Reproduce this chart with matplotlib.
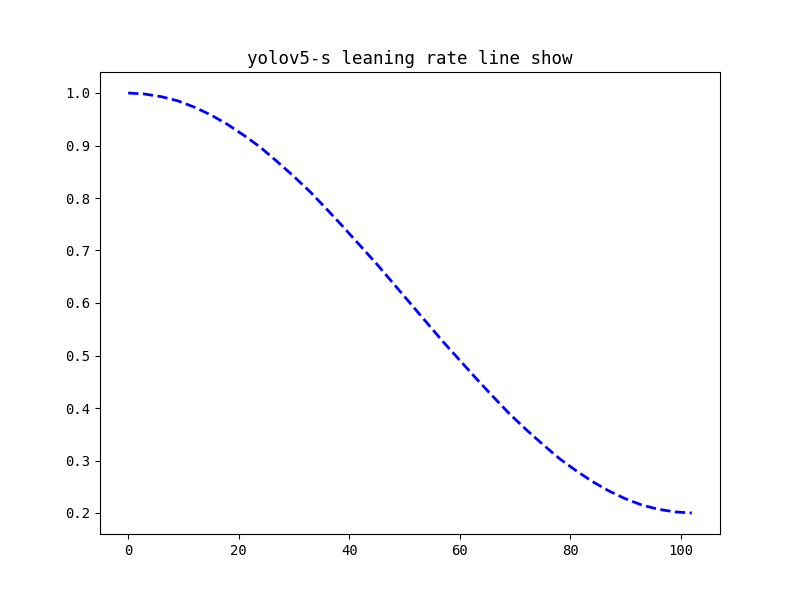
import matplotlib
matplotlib.use("Agg")
import matplotlib.pyplot as plt

# Font close to the SimHei look of the original
plt.rcParams["font.family"] = ["DejaVu Sans Mono"]

# Epochs and learning rate values
epochs = [0, 3, 6, 9, 12, 15, 18, 21, 24, 27, 30, 33, 36, 39, 42, 45, 48, 51,
          54, 57, 60, 63, 66, 69, 72, 75, 78, 81, 84, 87, 90, 93, 96, 99, 102]
lr_values = [1.000, 0.998, 0.993, 0.985, 0.973, 0.958, 0.940, 0.919, 0.896,
             0.869, 0.841, 0.811, 0.778, 0.744, 0.709, 0.674, 0.637, 0.600,
             0.563, 0.526, 0.491, 0.456, 0.422, 0.389, 0.359, 0.331, 0.304,
             0.281, 0.260, 0.242, 0.227, 0.215, 0.207, 0.202, 0.200]

title_text = "yolov5-s leaning rate line show"

# Create figure and axis
fig, ax = plt.subplots(figsize=(8, 6), dpi=100)

# Dashed blue learning rate curve
ax.plot(epochs, lr_values, color="blue", linestyle="--", linewidth=2)

# Add title
ax.set_title(title_text, fontsize=12.6)

# Save the figure
plt.savefig("out.png", dpi=100)
plt.close()
